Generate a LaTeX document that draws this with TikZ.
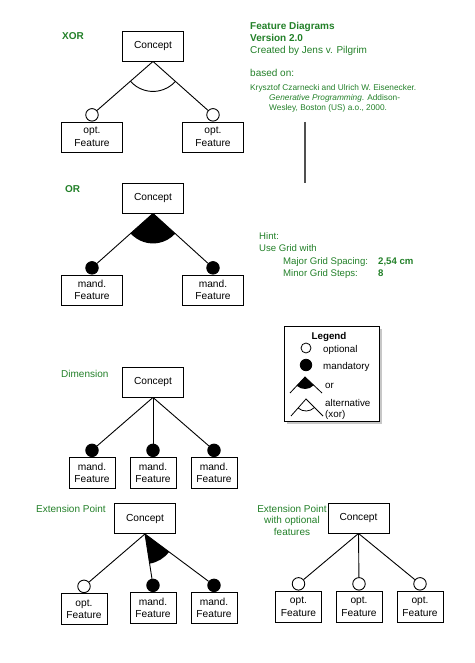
\documentclass[tikz,border=0pt]{standalone}
\usepackage{fontspec}
\setmainfont{Liberation Sans}
\usetikzlibrary{calc}
\definecolor{fdgreen}{RGB}{34,128,40}
\definecolor{vline}{RGB}{80,80,80}
\begin{document}
\begin{tikzpicture}[x=1pt,y=1pt,
  box/.style={draw, line width=0.9pt, minimum width=61pt, minimum height=30pt, inner sep=0pt, align=center, font=\fontsize{10.2}{12.5}\selectfont},
  nbox/.style={box, minimum width=46pt, minimum height=31pt},
  optc/.style={circle, draw, fill=white, line width=0.9pt, minimum size=12.5pt, inner sep=0pt, anchor=south},
  mandc/.style={optc, fill=black},
  conn/.style={line width=0.9pt},
  lbl/.style={text=fdgreen, inner sep=0pt, anchor=base west, font=\fontsize{10}{12}\selectfont},
  blbl/.style={lbl, font=\fontsize{10}{12}\selectfont\bfseries},
  slbl/.style={lbl, font=\fontsize{8.3}{10}\selectfont},
  hlbl/.style={lbl, font=\fontsize{9.6}{12}\selectfont},
  hblbl/.style={hlbl, font=\fontsize{9.6}{12}\selectfont\bfseries},
  leg/.style={inner sep=0pt, anchor=base west, font=\fontsize{9.8}{11}\selectfont},
]
\useasboundingbox (0,0) rectangle (474,-663);

% ---------- XOR ----------
\node[blbl] (lxor) at (62,-40) {XOR};
\node[box] (c1) at (153,-46) {Concept};
\node[box] (f1) at (92,-137) {opt.\\Feature};
\node[box] (f2) at (213,-137) {opt.\\Feature};
\node[optc] (o1) at (f1.north) {};
\node[optc] (o2) at (f2.north) {};
\draw[conn] (c1.south) -- (o1);
\draw[conn] (c1.south) -- (o2);
\draw[conn] let \p1=($(o1)-(c1.south)$), \p2=($(o2)-(c1.south)$),
  \n1={atan2(\y1,\x1)}, \n2={atan2(\y2,\x2)} in
  ($(c1.south)+(\n1:30pt)$) arc[start angle=\n1, end angle=\n2, radius=30pt];

% ---------- OR ----------
\node[blbl] (lor) at (65,-192) {OR};
\node[box] (c2) at (153,-198) {Concept};
\node[box] (f3) at (92,-290) {mand.\\Feature};
\node[box] (f4) at (213,-290) {mand.\\Feature};
\node[mandc] (m3) at (f3.north) {};
\node[mandc] (m4) at (f4.north) {};
\fill let \p1=($(m3)-(c2.south)$), \p2=($(m4)-(c2.south)$),
  \n1={atan2(\y1,\x1)}, \n2={atan2(\y2,\x2)} in
  (c2.south) -- ++(\n1:30pt) arc[start angle=\n1, end angle=\n2, radius=30pt] -- cycle;
\draw[conn] (c2.south) -- (m3);
\draw[conn] (c2.south) -- (m4);

% ---------- Dimension ----------
\node[lbl] (ldim) at (61,-377) {Dimension};
\node[box] (c3) at (153,-382) {Concept};
\node[nbox] (f5) at (92,-473) {mand.\\Feature};
\node[nbox] (f6) at (153,-473) {mand.\\Feature};
\node[nbox] (f7) at (214,-473) {mand.\\Feature};
\node[mandc] (m5) at (f5.north) {};
\node[mandc] (m6) at (f6.north) {};
\node[mandc] (m7) at (f7.north) {};
\draw[conn] (c3.south) -- (m5);
\draw[conn] (c3.south) -- (m6);
\draw[conn] (c3.south) -- (m7);

% ---------- Extension Point ----------
\node[lbl] (lext) at (36,-512) {Extension Point};
\node[box] (c4) at (145,-518.5) {Concept};
\node[nbox] (f8) at (84,-609) {opt.\\Feature};
\node[nbox] (f9) at (153,-608) {mand.\\Feature};
\node[nbox] (f10) at (214,-608) {mand.\\Feature};
\node[optc] (o8) at (f8.north) {};
\node[mandc] (m9) at (f9.north) {};
\node[mandc] (m10) at (f10.north) {};
\fill let \p1=($(m9)-(c4.south)$), \p2=($(m10)-(c4.south)$),
  \n1={atan2(\y1,\x1)}, \n2={atan2(\y2,\x2)} in
  (c4.south) -- ++(\n1:30pt) arc[start angle=\n1, end angle=\n2, radius=30pt] -- cycle;
\draw[conn] (c4.south) -- (o8);
\draw[conn] (c4.south) -- (m9);
\draw[conn] (c4.south) -- (m10);

% ---------- Extension Point with optional features ----------
\node[text=fdgreen, align=center, inner sep=0pt, font=\fontsize{10}{11.5}\selectfont] (lexo) at (292,-520) {Extension Point\\with optional\\features};
\node[box] (c5) at (358.5,-518) {Concept};
\node[nbox] (f11) at (298.5,-606.5) {opt.\\Feature};
\node[nbox] (f12) at (359,-606.5) {opt.\\Feature};
\node[nbox] (f13) at (420,-606.5) {opt.\\Feature};
\node[optc] (o11) at (f11.north) {};
\node[optc] (o12) at (f12.north) {};
\node[optc] (o13) at (f13.north) {};
\draw[conn] (c5.south) -- (o11);
\draw[conn] (c5.south) -- (o12);
\draw[conn] (c5.south) -- (o13);

% ---------- Title block ----------
\node[blbl] (t1) at (250,-30) {Feature Diagrams};
\node[blbl] (t2) at (250,-41.5) {Version 2.0};
\node[lbl] (t3) at (250,-53.5) {Created by Jens v. Pilgrim};
\node[lbl] (t4) at (250,-77) {based on:};
\node[slbl] (t5) at (250,-91) {Krysztof Czarnecki and Ulrich W. Eisenecker.};
\node[slbl] (t6) at (269,-101) {\itshape Generative Programming\upshape. Addison-};
\node[slbl] (t7) at (269,-111) {Wesley, Boston (US) a.o., 2000.};
\coordinate (v1) at (305,-122);
\coordinate (v2) at (305,-183);
\draw[vline, line width=1.2pt] (v1) -- (v2);

% ---------- Hint ----------
\node[hlbl] (h1) at (259,-239) {Hint:};
\node[hlbl] (h2) at (259,-251.5) {Use Grid with};
\node[hlbl] (h3) at (283,-264) {Major Grid Spacing:};
\node[hblbl] (h4) at (378,-264) {2,54 cm};
\node[hlbl] (h5) at (283,-276) {Minor Grid Steps:};
\node[hblbl] (h6) at (378,-276) {8};

% ---------- Legend ----------
\fill[black!22] (286.5,-328.5) rectangle (381.5,-423.5);
\draw[fill=white, line width=0.9pt] (284,-326) rectangle (379,-421);
\node[inner sep=0pt, anchor=base, font=\fontsize{9.8}{11}\selectfont\bfseries] (lg) at (329,-339) {Legend};
\node[circle, draw, line width=0.8pt, minimum size=10pt, inner sep=0pt] (lo) at (306,-348) {};
\node[leg] (lot) at (323,-352) {optional};
\node[circle, draw, fill=black, line width=0.8pt, minimum size=11.5pt, inner sep=0pt] (lm) at (306,-365) {};
\node[leg] (lmt) at (323,-369) {mandatory};
\coordinate (ora) at (305,-377);
\coordinate (orl) at (290,-393);
\coordinate (orr) at (322,-393);
\fill let \p1=($(orl)-(ora)$), \p2=($(orr)-(ora)$),
  \n1={atan2(\y1,\x1)}, \n2={atan2(\y2,\x2)} in
  (ora) -- ++(\n1:12pt) arc[start angle=\n1, end angle=\n2, radius=12pt] -- cycle;
\draw[line width=0.8pt] (orl) -- (ora) -- (orr);
\node[leg] (lort) at (325,-388) {or};
\coordinate (xa) at (306,-399);
\coordinate (xl) at (291,-416);
\coordinate (xr) at (323,-416);
\draw[line width=0.8pt] (xl) -- (xa) -- (xr);
\draw[line width=0.8pt] let \p1=($(xl)-(xa)$), \p2=($(xr)-(xa)$),
  \n1={atan2(\y1,\x1)}, \n2={atan2(\y2,\x2)} in
  ($(xa)+(\n1:12pt)$) arc[start angle=\n1, end angle=\n2, radius=12pt];
\node[leg] (lxt1) at (325,-406) {alternative};
\node[leg] (lxt2) at (325,-417) {(xor)};
\end{tikzpicture}
\end{document}
